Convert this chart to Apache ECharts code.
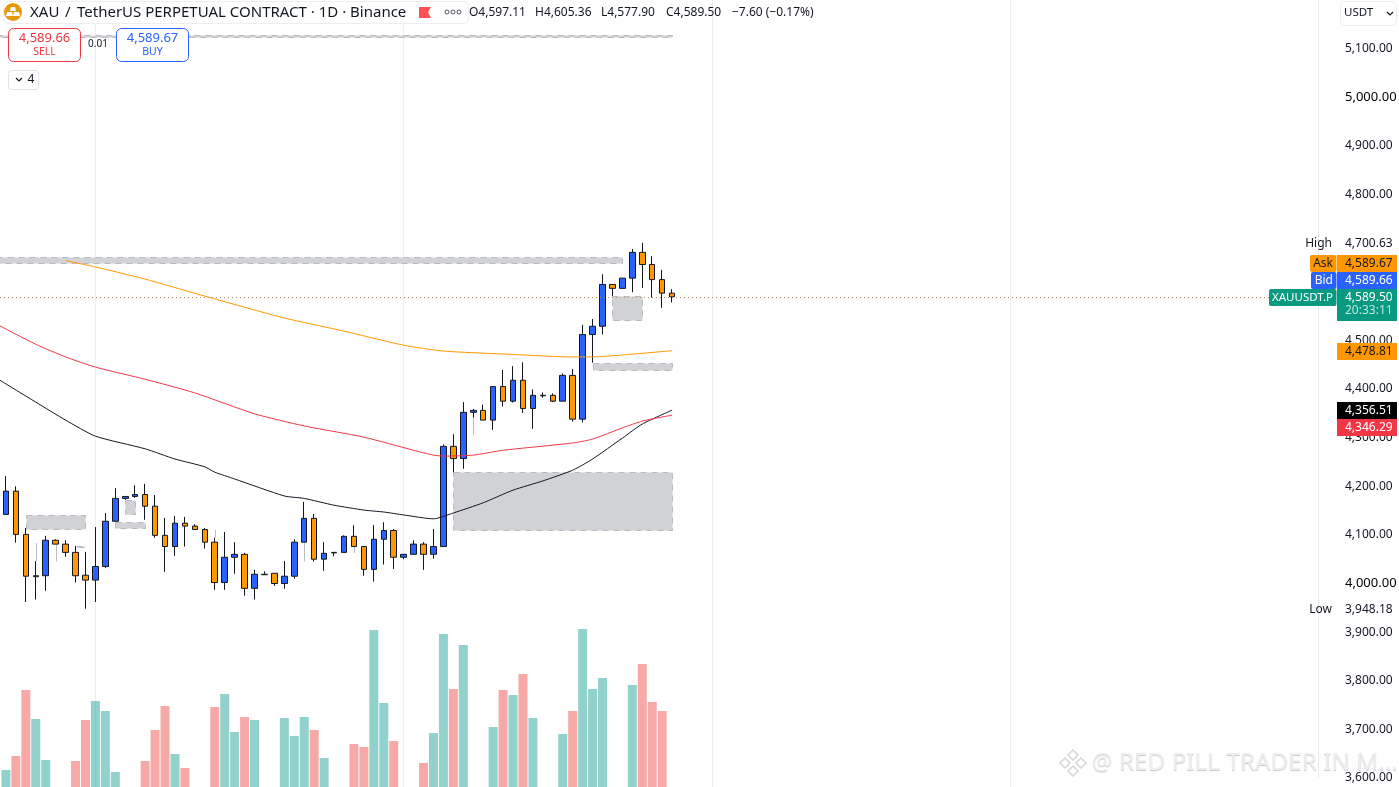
<!DOCTYPE html>
<html><head><meta charset="utf-8">
<style>html,body{margin:0;padding:0;background:#fff;overflow:hidden}#c{width:1399px;height:787px}</style>
<script src="https://cdn.jsdelivr.net/npm/echarts@6/dist/echarts.min.js"></script>
</head><body><div id="c"></div>
<script>
// [open, close, low, high], one row per daily bar
const ohlc = [
[4142,4190,4142,4221],[4190,4101,4084,4200],[4101,4015,3962,4114],[4016,4014,3967,4046],[4016,4089,3985,4098],
[4089,4081,4081,4091],[4081,4064,4055,4089],[4064,4016,4002,4077],[4017,4007,3948.18,4065],[4007,4035,3962,4116],
[4035,4128,4032,4145],[4128,4175,4128,4196],[4175,4179,4172,4179],[4179,4183,4176,4202],[4183,4159,4131,4205],
[4159,4099,4094,4182],[4099,4076,4024,4135],[4076,4124,4057,4139],[4124,4118,4076,4137],[4118,4111,4111,4122],
[4111,4085,4072,4114],[4085,4002,3987,4094],[4002,4054,3987,4106],[4054,4060,4020,4085],[4060,3990,3975,4063],
[3990,4019,3967,4028],[4019,4018,4018,4025],[4021,4000,3995,4021],[4000,4015,3989,4046],[4015,4085,4010,4091],
[4085,4134,4085,4168],[4134,4050,4045,4143],[4050,4062,4026,4085],[4064,4063,4056,4064],[4064,4097,4064,4099],
[4097,4076,4076,4120],[4076,4029,4016,4076],[4029,4091,4004,4120],[4091,4109,4039,4126],[4109,4054,4030,4112],
[4054,4060,4050,4060],[4060,4081,4060,4089],[4081,4060,4028,4085],[4060,4076,4051,4112],[4076,4282,4076,4286],
[4282,4257,4229,4307],[4257,4352,4236,4373],[4352,4356,4341,4359],[4356,4336,4336,4368],[4336,4405,4316,4405],
[4405,4375,4364,4439],[4375,4418,4372,4447],[4418,4360,4351,4455],[4360,4387,4318,4399],[4387,4386,4382,4393],
[4387,4375,4373,4391],[4375,4428,4375,4432],[4428,4338,4333,4441],[4338,4512,4331,4532],[4512,4529,4454,4544],
[4529,4615,4512,4636],[4615,4607,4591,4615],[4607,4628,4607,4628],[4628,4681,4599,4688],[4681,4656,4608,4700.63],
[4656,4625,4588,4673],[4625,4597.11,4567,4645],[4597.11,4589.50,4577.90,4605.36]
];
// volume per bar (null where no bar is shown) and its direction
const volume = [17,31,97,68,27,null,null,26,67,86,76,15,null,null,26,57,81,33,19,null,null,80,93,55,70,67,null,null,69,51,70,57,29,null,null,43,40,157,84,46,null,null,24,54,153,98,142,null,null,60,97,92,113,69,null,null,53,76,158,98,109,null,null,102,123,85,76,null];
const volumeDir = [1,0,0,1,1,0,0,0,0,1,1,1,0,0,0,0,0,1,0,0,0,0,1,1,0,1,0,0,1,1,1,0,1,0,0,0,0,1,1,0,0,0,0,1,1,0,1,0,0,1,0,1,0,1,0,0,1,0,1,1,1,0,0,1,0,0,0,0];
// moving averages: [bar position, price]; position 0 is the bar just off the left edge
const maBlack = [[0,4423],[4,4373],[7,4336],[10,4303],[15,4277],[18,4256],[21,4240],[22,4229],[24,4215],[29,4180],[31,4175],[34,4161],[37,4151],[39,4147],[41,4141],[44,4133],[46,4145],[49,4166],[52,4192],[55,4211],[58,4233],[60,4256],[63,4299],[65,4328],[68,4356.51]];
const maRed = [[0,4534],[4,4492],[7,4466],[10,4445],[15,4420],[20,4392],[26,4349],[31,4324],[37,4301],[42,4274],[44,4264],[45,4262],[48,4264],[51,4274],[58,4289],[60,4297],[63,4320],[65,4334],[68,4346.29]];
const maOrange = [[7,4664],[10,4651],[15,4626],[21,4591],[29,4546],[35,4519],[41,4490],[45,4478],[51,4472],[58,4466],[60,4466],[63,4470],[68,4478.81]];
// zones: [from position, to position, upper price, lower price]
const zones = [[0,68,5129,5123],[0,63,4671,4660],[3,9,4140,4113],[12,15,4126,4115],[13,14,4172,4143],[8,9,4078,4076],[46,68,4229,4111],[60,68,4453,4440],[62,65,4591,4542]];
// faded wick parts: [position, price a, price b]
const fadedWicks = [[4,4046,4083],[6,4081,4045],[22,4094,4110],[31,4085,4045],[36,4076,4063],[48,4341,4305]];
const gridLineBars = [10,41,72,102];
const hiddenTicks = [4600,4700,5200];
const lastClose = 4589.50;
const barCount = 134;
const categories = Array.from({length: barCount}, (_, i) => String(i));

const FONT = '"Noto Sans", sans-serif';
const INK = '#131722';
const fmt = v => v.toLocaleString('en-US', {minimumFractionDigits: 2, maximumFractionDigits: 2});

const G = [];
const text = (t, x, y, size, fill, align, weight) => G.push({type:'text', z:100, style:{text:t, x, y, fill, font:`${weight||'normal'} ${size}px ${FONT}`, textAlign:align||'left', textVerticalAlign:'middle'}});
const rect = (x, y, w, h, fill, stroke, r) => G.push({type:'rect', z:99, shape:{x, y, width:w, height:h, r:r||0}, style:{fill:fill||'#fff', stroke:stroke||null, lineWidth:1}});
const poly = (pts, stroke, w) => G.push({type:'polyline', z:100, shape:{points:pts}, style:{stroke, fill:null, lineWidth:w||1}});

// header
rect(3.5,1.5,465,22,'#ffffff','#eceef2',5);
G.push({type:'circle', z:100, shape:{cx:13,cy:12,r:9}, style:{fill:'#e39a0e'}});
G.push({type:'polygon', z:101, shape:{points:[[11,7],[15,7],[16,11],[10,11]]}, style:{fill:'#fff'}});
G.push({type:'polygon', z:101, shape:{points:[[7,12],[12,12],[13,16],[6,16]]}, style:{fill:'#fff'}});
G.push({type:'polygon', z:101, shape:{points:[[14,12],[19,12],[20,16],[13,16]]}, style:{fill:'#fff'}});
text('XAU',30,12.5,15,INK);
text('/',65,12.5,15,INK);
text('TetherUS PERPETUAL CONTRACT · 1D · Binance',77,12.5,15,INK);
G.push({type:'polygon', z:100, shape:{points:[[419,7],[431,7],[428,12.5],[431,18],[419,18]]}, style:{fill:'#ff5252'}});
[447,453,459].forEach(cx=>G.push({type:'circle', z:100, shape:{cx,cy:12,r:2}, style:{fill:'#fff',stroke:'#50535e',lineWidth:1}}));
text('O4,597.11',469,12.5,12,INK);
text('H4,605.36',535,12.5,12,INK);
text('L4,577.90',601,12.5,12,INK);
text('C4,589.50',666,12.5,12,INK);
text('−7.60 (−0.17%)',732,12.5,12,INK);
// order buttons
rect(8.5,28.5,72,33,'#ffffff','#f23645',5);
text('4,589.66',44.5,38,13,'#f23645','center');
text('SELL',44.5,52,10.5,'#f23645','center');
text('0.01',98,44,10,INK,'center');
rect(116.5,28.5,72,33,'#ffffff','#2962ff',5);
text('4,589.67',152.5,38,13,'#2962ff','center');
text('BUY',152.5,52,10.5,'#2962ff','center');
rect(8.5,70.5,30,19,'#ffffff','#e0e3eb',3);
poly([[16,78],[19,81],[22,78]],INK,1.2);
text('4',31,80,12,INK,'center');
// currency button
rect(1340.5,1.5,56,24,'#ffffff','#eceef2',5);
text('USDT',1344,13,11.5,INK);
poly([[1387,12],[1390,15],[1393,12]],INK,1.2);
// axis tags
text('High',1332,244,12,INK,'right');
text('4,700.63',1345,244,12,INK);
text('Low',1332,610,12,INK,'right');
text('3,948.18',1345,609.5,12,INK);
rect(1310,255,26.5,17,'#ff9800',null,2);
text('Ask',1333,263.5,12,INK,'right');
rect(1337,255,60,17,'#ff9800');
text('4,589.67',1345,263.5,12,INK);
rect(1311,272,25.5,17,'#2962ff',null,2);
text('Bid',1333,280.5,12,'#ffffff','right');
rect(1337,272,60,17,'#2962ff');
text('4,589.66',1345,280.5,12,'#ffffff');
rect(1269,289,67.5,17,'#089981',null,2);
text('XAUUSDT.P',1333,297.5,11.5,'#ffffff','right');
rect(1337,289,60,32,'#089981');
text('4,589.50',1345,297.5,12,'#ffffff');
text('20:33:11',1345,311,12,'#c4e6e0');
rect(1337,343,60,17,'#ff9800');
text('4,478.81',1345,351.5,12,INK);
rect(1337,402,60,17,'#000000');
text('4,356.51',1345,410.5,12,'#ffffff');
rect(1337,419,60,17,'#f23645');
text('4,346.29',1345,427.5,12,'#ffffff');
// watermark
G.push({type:'group', z:98, x:1073, y:763, children:[[0,-8],[-8,0],[8,0],[0,8]].map(p=>({type:'polygon', z:98, shape:{points:[[p[0],p[1]-5],[p[0]+5,p[1]],[p[0],p[1]+5],[p[0]-5,p[1]]]}, style:{fill:'#ffffff',stroke:'#d6d6d8',lineWidth:1.5}}))});
const wm = (t,x,size,align)=>G.push({type:'text', z:98, style:{text:t, x, y:763, fill:'#eeeef0', font:`${size}px ${FONT}`, textAlign:align, textVerticalAlign:'middle', textShadowColor:'rgba(0,0,0,0.22)', textShadowBlur:1, textShadowOffsetY:1}});
wm('@',1102,23,'center');
wm('RED PILL TRADER IN M...',1119,24.3,'left');

const chart = echarts.init(document.getElementById('c'), null, {renderer:'canvas'});
chart.setOption({
  animation:false,
  backgroundColor:'#ffffff',
  textStyle:{fontFamily:FONT},
  grid:[
    {left:-4, width:1322.4, top:0, height:778, outerBoundsMode:'none'},
    {left:-4, width:1322.4, top:0, height:787, outerBoundsMode:'none'}
  ],
  xAxis:[
    {type:'category', gridIndex:0, data:categories, boundaryGap:false, show:false},
    {type:'category', gridIndex:1, data:categories, boundaryGap:false, axisLine:{show:false}, axisTick:{show:false}, axisLabel:{show:false},
     splitLine:{show:true, interval:i=>gridLineBars.includes(i), lineStyle:{color:'#eeeff1',width:1}}}
  ],
  yAxis:[
    {type:'value', gridIndex:0, position:'right', min:3600, max:5200, interval:100,
     splitLine:{show:false}, axisTick:{show:false}, axisLine:{show:true, lineStyle:{color:'#e6e8ec'}},
     axisLabel:{margin:26.6, align:'left', color:INK, fontSize:12, fontFamily:FONT, showMaxLabel:false,
       formatter:v=>hiddenTicks.includes(v)?'':(v%1000===0?`{k|${fmt(v)}}`:fmt(v)),
       rich:{k:{fontSize:13,color:'#000',fontFamily:FONT}}}},
    {type:'value', gridIndex:1, min:0, max:787, show:false}
  ],
  graphic:{elements:G},
  series:[
    {type:'custom', name:'Zones', xAxisIndex:0, yAxisIndex:0, z:1, silent:true, clip:false,
     encode:{x:[0,1],y:[2,3]}, data:zones,
     renderItem:(p,api)=>{
       const a=api.coord([api.value(0),api.value(2)]), b=api.coord([api.value(1),api.value(3)]);
       const x0=Math.round(a[0])+0.5, x1=Math.round(b[0])+0.5, y0=Math.round(a[1])+0.5, y1=Math.round(b[1])+0.5;
       return {type:'rect', shape:{x:x0,y:y0,width:x1-x0,height:y1-y0},
         style:{fill:'#d1d2d6',stroke:'#b9bac0',lineWidth:1,lineDash:[6,5]}};
     }},
    {type:'bar', name:'Volume', xAxisIndex:1, yAxisIndex:1, z:2, barWidth:9, silent:true,
     data:[null].concat(volume.map((v,i)=>v==null?null:{value:v,itemStyle:{color:volumeDir[i]?'rgba(38,166,154,0.5)':'rgba(239,83,80,0.5)'}}))},
    {type:'custom', name:'Faded wicks', xAxisIndex:0, yAxisIndex:0, z:2, silent:true,
     encode:{x:0,y:[1,2]}, data:fadedWicks,
     renderItem:(p,api)=>{
       const a=api.coord([api.value(0),api.value(1)]), b=api.coord([api.value(0),api.value(2)]);
       const x=Math.round(a[0])+0.5;
       return {type:'line', shape:{x1:x,y1:a[1],x2:x,y2:b[1]}, style:{stroke:'#bdbec2',lineWidth:1}};
     }},
    {type:'candlestick', name:'XAUUSDT.P', xAxisIndex:0, yAxisIndex:0, z:3, barWidth:6, silent:true,
     data:[['-','-','-','-']].concat(ohlc),
     itemStyle:{color:'#2962ff',color0:'#ff9800',borderColor:INK,borderColor0:INK,borderColorDoji:INK,borderWidth:1},
     markLine:{silent:true, symbol:'none', animation:false, label:{show:false},
       lineStyle:{type:[1,3],color:'#a8925f',width:1}, data:[{yAxis:lastClose}]}},
    {type:'line', name:'MA black', xAxisIndex:0, yAxisIndex:0, z:4, data:maBlack, symbol:'none', smooth:0.2, silent:true, lineStyle:{color:'#131722',width:1}},
    {type:'line', name:'MA red', xAxisIndex:0, yAxisIndex:0, z:4, data:maRed, symbol:'none', smooth:0.2, silent:true, lineStyle:{color:'#f23645',width:1}},
    {type:'line', name:'MA orange', xAxisIndex:0, yAxisIndex:0, z:4, data:maOrange, symbol:'none', smooth:0.2, silent:true, lineStyle:{color:'#ff9800',width:1}}
  ]
});
</script></body></html>
